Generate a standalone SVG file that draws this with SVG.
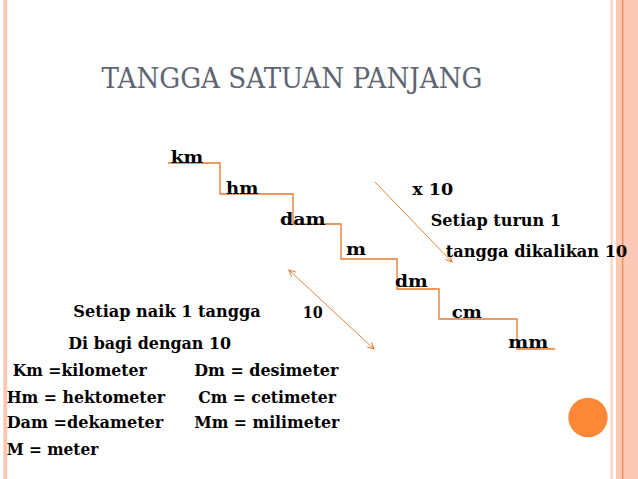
<svg xmlns="http://www.w3.org/2000/svg" width="638" height="479" viewBox="0 0 638 479">
<defs>
<style>
.t{font-family:'DejaVu Serif','Liberation Serif','Times New Roman','Noto Serif',Times,serif;font-weight:700;font-size:17px;fill:#000}
.ttl{font-family:'DejaVu Serif','Liberation Serif','Times New Roman',Times,serif;font-size:27.4px;fill:#5F6573}
.stair{fill:none;stroke:#E2782E;stroke-width:1.3}
.arr{stroke:#E8823A;stroke-width:1;fill:none}
</style>
<marker id="ah" viewBox="0 0 10 10" refX="9" refY="5" markerWidth="8" markerHeight="8" markerUnits="userSpaceOnUse" orient="auto-start-reverse">
<path d="M1,1 L9,5 L1,9" fill="none" stroke="#E8823A" stroke-width="1.3"/>
</marker>
</defs>
<rect width="638" height="479" fill="#fff"/>
<g id="borders">
<rect x="3.3" y="0" width="4" height="479" fill="#FCC8B4"/>
<rect x="610.5" y="0" width="2.2" height="479" fill="#FCD2C2"/>
<rect x="616" y="0" width="22" height="479" fill="#FDC9B4"/>
<rect x="622" y="0" width="1.3" height="479" fill="#EE8A57"/>
</g>
<text id="title" class="ttl" x="101.5" y="87.7" textLength="381" lengthAdjust="spacingAndGlyphs">TANGGA SATUAN PANJANG</text>
<g id="connectors">
<polyline id="stairs" class="stair" points="168,163 220,163 220,194 293,194 293,224 341,224 341,259 397,259 397,289 439,289 439,319 517,319 517,349 555,349"/>
<line id="down-arrow" class="arr" x1="375" y1="182" x2="452" y2="262" marker-end="url(#ah)"/>
<line id="double-arrow" class="arr" x1="289" y1="270" x2="374" y2="349" marker-start="url(#ah)" marker-end="url(#ah)"/>
</g>
<g id="units">
<text class="t" x="170.7" y="162.7" textLength="32.7" lengthAdjust="spacingAndGlyphs">km</text>
<text class="t" x="226" y="194" textLength="32.3" lengthAdjust="spacingAndGlyphs">hm</text>
<text class="t" x="280" y="225" textLength="45.7" lengthAdjust="spacingAndGlyphs">dam</text>
<text class="t" x="346" y="255" textLength="20" lengthAdjust="spacingAndGlyphs">m</text>
<text class="t" x="395" y="286.7" textLength="32.7" lengthAdjust="spacingAndGlyphs">dm</text>
<text class="t" x="451.7" y="317.7" textLength="30" lengthAdjust="spacingAndGlyphs">cm</text>
<text class="t" x="508.3" y="348.3" textLength="40" lengthAdjust="spacingAndGlyphs">mm</text>
</g>
<g id="labels">
<text class="t" x="412.3" y="195" textLength="41" lengthAdjust="spacingAndGlyphs">x 10</text>
<text class="t" x="430.7" y="225.7" textLength="130.3" lengthAdjust="spacingAndGlyphs">Setiap turun 1</text>
<text class="t" x="445.7" y="256.7" textLength="181.6" lengthAdjust="spacingAndGlyphs">tangga dikalikan 10</text>
<text class="t" x="302.7" y="317.7" textLength="20" lengthAdjust="spacingAndGlyphs">10</text>
<text class="t" x="73.3" y="317.3" textLength="187.4" lengthAdjust="spacingAndGlyphs">Setiap naik 1 tangga</text>
<text class="t" x="68.3" y="349.3" textLength="162.7" lengthAdjust="spacingAndGlyphs">Di bagi dengan 10</text>
</g>
<g id="legend">
<text class="t" x="12.7" y="376" textLength="134" lengthAdjust="spacingAndGlyphs">Km =kilometer</text>
<text class="t" x="194.3" y="376" textLength="144" lengthAdjust="spacingAndGlyphs">Dm = desimeter</text>
<text class="t" x="6.7" y="402.7" textLength="158.3" lengthAdjust="spacingAndGlyphs">Hm = hektometer</text>
<text class="t" x="198.3" y="402.7" textLength="137.7" lengthAdjust="spacingAndGlyphs">Cm = cetimeter</text>
<text class="t" x="6.7" y="428.3" textLength="156.6" lengthAdjust="spacingAndGlyphs">Dam =dekameter</text>
<text class="t" x="194.3" y="428.3" textLength="145" lengthAdjust="spacingAndGlyphs">Mm = milimeter</text>
<text class="t" x="6.7" y="455" textLength="91.6" lengthAdjust="spacingAndGlyphs">M = meter</text>
</g>
<circle id="dot" cx="588" cy="417.5" r="19.7" fill="#FD8637"/>
</svg>
